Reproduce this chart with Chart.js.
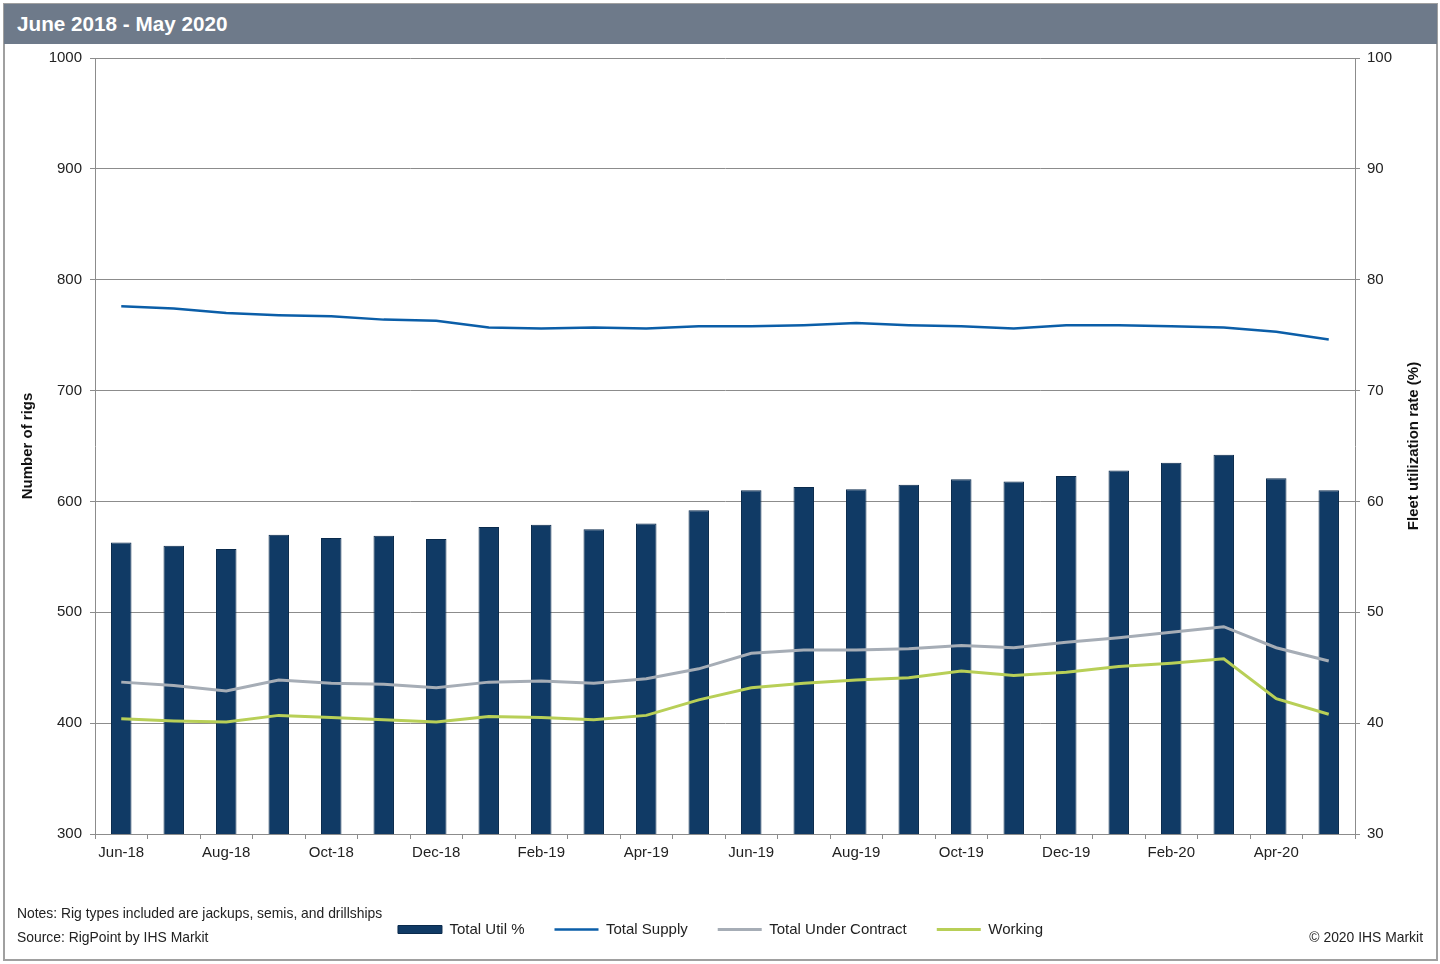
<!DOCTYPE html>
<html>
<head>
<meta charset="utf-8">
<script src="https://cdn.jsdelivr.net/npm/chart.js@4.4.1/dist/chart.umd.min.js"></script>
<style>
  body { margin: 0; background: #fff; font-family: "Liberation Sans", Arial, sans-serif; }
  #frame { position: absolute; left: 3px; top: 3px; width: 1435px; height: 958px; border: 2px solid #a0a0a0; box-sizing: border-box; }
  #header { position: absolute; left: 4px; top: 4px; width: 1433px; height: 40px; background: #6e7a8a; }
  #header span { position: absolute; left: 13px; top: 8px; color: #fff; font-weight: bold; font-size: 20.7px; }
  #wrap { position: absolute; left: 4px; top: 41px; width: 1433px; height: 917px; }
  .note { position: absolute; font-size: 13.9px; color: #222; }
</style>
</head>
<body>
<div id="frame"></div>
<div id="wrap"><canvas id="myChart"></canvas></div>
<div id="header"><span>June 2018 - May 2020</span></div>
<div class="note" style="left:17px;top:905px;">Notes: Rig types included are jackups, semis, and drillships</div>
<div class="note" style="left:17px;top:929px;">Source: RigPoint by IHS Markit</div>
<div class="note" style="right:17px;top:929px;">© 2020 IHS Markit</div>

<script>
// months, Jun-18 .. May-20
var months = ['Jun-18','Jul-18','Aug-18','Sep-18','Oct-18','Nov-18','Dec-18','Jan-19','Feb-19','Mar-19','Apr-19','May-19',
              'Jun-19','Jul-19','Aug-19','Sep-19','Oct-19','Nov-19','Dec-19','Jan-20','Feb-20','Mar-20','Apr-20','May-20'];

// bars, right axis (%)
var totalUtil = [56.3,56.0,55.7,57.0,56.7,56.9,56.6,57.7,57.9,57.5,58.0,59.2,61.0,61.3,61.1,61.5,62.0,61.8,62.3,62.8,63.5,64.2,62.1,61.0];

// lines, left axis (number of rigs)
var totalSupply = [776,774,770,768,767,764,763,757,756,757,756,758,758,759,761,759,758,756,759,759,758,757,753,746];
var underContract = [437,434,429,439,436,435,432,437,438,436,440,449,463,466,466,467,470,468,473,477,482,487,468,456];
var working = [404,402,401,407,405,403,401,406,405,403,407,421,432,436,439,441,447,443,446,451,454,458,422,408];

var leftTicks = [300,1000,100];   // min, max, step
var rightTicks = [30,100,10];

var font = '"Liberation Sans", Arial, sans-serif';
var gridCol = '#8c8c8c';
var textCol = '#222';

////axis titles, both read bottom to top
var axisTitles = {
    id: 'axisTitles',
    afterDraw: function(chart) {
        var ctx = chart.ctx;
        var a = chart.chartArea;
        var midY = (a.top + a.bottom) / 2;
        ctx.save();
        ctx.font = 'bold 15px ' + font;
        ctx.fillStyle = '#111';
        ctx.textAlign = 'center';
        ctx.textBaseline = 'middle';
        ctx.translate(24, midY);
        ctx.rotate(-Math.PI / 2);
        ctx.fillText('Number of rigs', 0, 0);
        ctx.restore();
        ctx.save();
        ctx.font = 'bold 15px ' + font;
        ctx.fillStyle = '#111';
        ctx.textAlign = 'center';
        ctx.textBaseline = 'middle';
        ctx.translate(1410, midY);
        ctx.rotate(-Math.PI / 2);
        ctx.fillText('Fleet utilization rate (%)', 0, 0);
        ctx.restore();
    }
};

var ctx = document.getElementById('myChart').getContext('2d');
var chart = new Chart(ctx, {
    type: 'bar',
    data: {
        labels: months,
        datasets: [{
            label: 'Total Util %',
            data: totalUtil,
            yAxisID: 'y1',
            backgroundColor: '#103a65',
            borderColor: '#0a2a4c',
            borderWidth: 1,
            barPercentage: 0.39,
            categoryPercentage: 1,
            pointStyle: 'rect',
            order: 1
        }, {
            type: 'line',
            label: 'Total Supply',
            data: totalSupply,
            yAxisID: 'y',
            borderColor: '#0b5ea8',
            borderWidth: 2.5,
            pointRadius: 0,
            tension: 0,
            pointStyle: 'line',
            order: 0
        }, {
            type: 'line',
            label: 'Total Under Contract',
            data: underContract,
            yAxisID: 'y',
            borderColor: '#a6adb6',
            borderWidth: 3,
            pointRadius: 0,
            tension: 0,
            pointStyle: 'line',
            order: 0
        }, {
            type: 'line',
            label: 'Working',
            data: working,
            yAxisID: 'y',
            borderColor: '#b8cf57',
            borderWidth: 3,
            pointRadius: 0,
            tension: 0,
            pointStyle: 'line',
            order: 0
        }]
    },
    options: {
        responsive: true,
        maintainAspectRatio: false,
        animation: false,
        layout: { padding: { left: 0, right: 0, top: 11, bottom: 11 } },
        plugins: {
            tooltip: { enabled: false },
            legend: {
                position: 'bottom',
                labels: {
                    usePointStyle: true,
                    pointStyleWidth: 44,
                    boxHeight: 8,
                    padding: 30,
                    color: textCol,
                    font: { family: font, size: 15 },
                    sort: function(a, b) { return a.datasetIndex - b.datasetIndex; }
                }
            }
        },
        scales: {
            x: {
                grid: { offset: true, drawOnChartArea: false, drawTicks: true, tickLength: 5, color: gridCol },
                border: { color: gridCol },
                ticks: {
                    autoSkip: false,
                    maxRotation: 0,
                    padding: 5,
                    color: textCol,
                    font: { family: font, size: 15 },
                    callback: function(v, i) { return i % 2 == 0 ? months[i] : ''; }
                },
                afterFit: function(s) { s.height = 58; }
            },
            y: {
                position: 'left',
                min: leftTicks[0], max: leftTicks[1],
                ticks: {
                    stepSize: leftTicks[2], padding: 8, color: textCol, font: { family: font, size: 15 },
                    callback: function(v) { return String(v); }
                },
                grid: { color: gridCol, tickLength: 5 },
                border: { color: gridCol },
                afterFit: function(s) { s.width = 91; }
            },
            y1: {
                position: 'right',
                min: rightTicks[0], max: rightTicks[1],
                ticks: { stepSize: rightTicks[2], padding: 7, color: textCol, font: { family: font, size: 15 } },
                grid: { drawOnChartArea: false, color: gridCol, tickLength: 5 },
                border: { color: gridCol },
                afterFit: function(s) { s.width = 82; }
            }
        }
    },
    plugins: [axisTitles]
});
</script>
</body>
</html>
